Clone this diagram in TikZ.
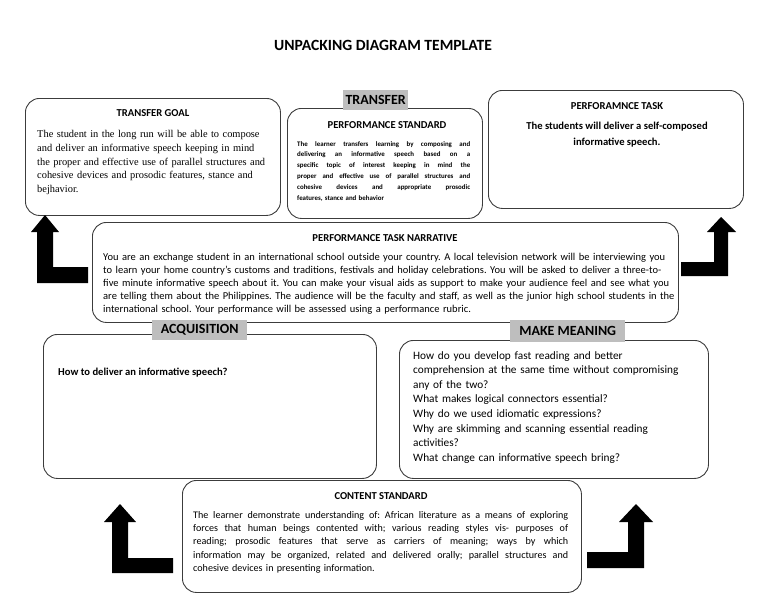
\documentclass[tikz,border=0pt]{standalone}
\usepackage{fontspec}
\setmainfont{Carlito}
\newfontfamily\serifgoal{Liberation Serif}
\frenchspacing
\definecolor{boxline}{RGB}{60,60,60}
\definecolor{labgray}{RGB}{190,190,190}
\newcommand{\jline}[2]{\leavevmode\hbox to #1{\spaceskip=\fontdimen2\font plus 1fil minus 0.3\fontdimen2\font\relax #2}}
\begin{document}
\begin{tikzpicture}[x=1pt,y=-1pt,
  box/.style={draw=boxline, line width=0.9pt, rounded corners=14pt, inner sep=0pt, anchor=north west},
  lab/.style={fill=labgray, inner sep=0pt, anchor=north west, font=\bfseries\fontsize{14}{16}\selectfont},
  head/.style={font=\bfseries\fontsize{10.6}{12}\selectfont},
  bigarrow/.style={fill=black, draw=none}
]
\useasboundingbox (0,0) rectangle (768,594);
% boxes
\node[box, minimum width=255pt, minimum height=117pt] (goal) at (25,98) {};
\node[box, minimum width=195pt, minimum height=110pt] (pstd) at (287,108) {};
\node[box, minimum width=255pt, minimum height=118pt] (ptask) at (488,90) {};
\node[box, minimum width=586pt, minimum height=100pt] (narr) at (92,222) {};
\node[box, minimum width=333pt, minimum height=144pt] (acq) at (43,334) {};
\node[box, minimum width=309pt, minimum height=138pt] (mm) at (399,340) {};
\node[box, minimum width=399pt, minimum height=112pt] (cstd) at (182,480) {};
% labels
\node[lab, minimum width=65pt, minimum height=20pt] (ltransfer) at (343,90) {TRANSFER};
\node[lab, minimum width=95pt, minimum height=20pt] (lacq) at (152,320) {ACQUISITION};
\node[lab, minimum width=115pt, minimum height=22pt] (lmm) at (510,320) {MAKE MEANING};
% title
\node[font=\bfseries\fontsize{15.6}{18}\selectfont] (title) at (383,45) {UNPACKING DIAGRAM TEMPLATE};
% transfer goal
\node[head] (goalh) at (153,113) {TRANSFER GOAL};
\node[anchor=north west, inner sep=0pt, text width=245pt, align=left,
  font=\serifgoal\fontsize{10.4}{13.8}\selectfont] (goalt) at (37,130)
  {The student in the long run will be able to compose\\
   and deliver an informative speech keeping in mind\\
   the proper and effective use of parallel structures and\\
   cohesive devices and prosodic features, stance and\\
   bejhavior.};
% performance standard
\node[head] (pstdh) at (387,125) {PERFORMANCE STANDARD};
\node[anchor=north west, inner sep=0pt, text width=173pt, align=left,
  font=\bfseries\fontsize{6.9}{10.8}\selectfont] (pstdt) at (297,141)
  {\jline{173pt}{The learner transfers learning by composing and}\\
   \jline{173pt}{delivering an informative speech based on a}\\
   \jline{173pt}{specific topic of interest keeping in mind the}\\
   \jline{173pt}{proper and effective use of parallel structures and}\\
   \jline{173pt}{cohesive devices and appropriate prosodic}\\
   features, stance and behavior};
% performance task
\node[head] (ptaskh) at (617,106) {PERFORAMNCE TASK};
\node[align=center, font=\bfseries\fontsize{10.6}{16}\selectfont] (ptaskt) at (617,135)
  {The students will deliver a self-composed\\informative speech.};
% narrative
\node[head] (narrh) at (385,238) {PERFORMANCE TASK NARRATIVE};
\node[anchor=north west, inner sep=0pt, text width=600pt, align=left,
  font=\fontsize{10.5}{13}\selectfont] (narrt) at (103,253)
  {You are an exchange student in an international school outside your country. A local television network will be interviewing you\\
   to learn your home country's customs and traditions, festivals and holiday celebrations. You will be asked to deliver a three-to-\\
   five minute informative speech about it. You can make your visual aids as support to make your audience feel and see what you\\
   are telling them about the Philippines. The audience will be the faculty and staff, as well as the junior high school students in the\\
   international school. Your performance will be assessed using a performance rubric.};
% acquisition
\node[anchor=west, inner sep=0pt, font=\bfseries\fontsize{10.6}{12}\selectfont] (acqt) at (58,373) {How to deliver an informative speech?};
% make meaning
\node[anchor=north west, inner sep=0pt, text width=295pt, align=left,
  font=\fontsize{11.3}{14.6}\selectfont] (mmt) at (413,351)
  {How do you develop fast reading and better\\
   comprehension at the same time without compromising\\
   any of the two?\\
   What makes logical connectors essential?\\
   Why do we used idiomatic expressions?\\
   Why are skimming and scanning essential reading\\
   activities?\\
   What change can informative speech bring?};
% content standard
\node[head] (cstdh) at (381,496) {CONTENT STANDARD};
\node[anchor=north west, inner sep=0pt, text width=375pt, align=left,
  font=\fontsize{10.1}{13.3}\selectfont] (cstdt) at (193,511)
  {\jline{375pt}{The learner demonstrate understanding of: African literature as a means of exploring}\\
   \jline{375pt}{forces that human beings contented with; various reading styles vis- purposes of}\\
   \jline{375pt}{reading; prosodic features that serve as carriers of meaning; ways by which}\\
   \jline{375pt}{information may be organized, related and delivered orally; parallel structures and}\\
   cohesive devices in presenting information.};
% arrows
\fill[bigarrow] (37,283) -- (88,283) -- (88,267) -- (53,267) -- (53,232) -- (59,232) -- (45,215) -- (31,232) -- (37,232) -- cycle;
\fill[bigarrow] (681,276) -- (728,276) -- (728,232) -- (736,232) -- (721,217) -- (707,232) -- (714,232) -- (714,262) -- (681,262) -- cycle;
\fill[bigarrow] (112,573) -- (173,573) -- (173,558) -- (128,558) -- (128,522) -- (136,522) -- (120,504) -- (104,522) -- (112,522) -- cycle;
\fill[bigarrow] (587,568) -- (644,568) -- (644,522) -- (653,522) -- (636,504) -- (619,522) -- (628,522) -- (628,552) -- (587,552) -- cycle;
\end{tikzpicture}
\end{document}
